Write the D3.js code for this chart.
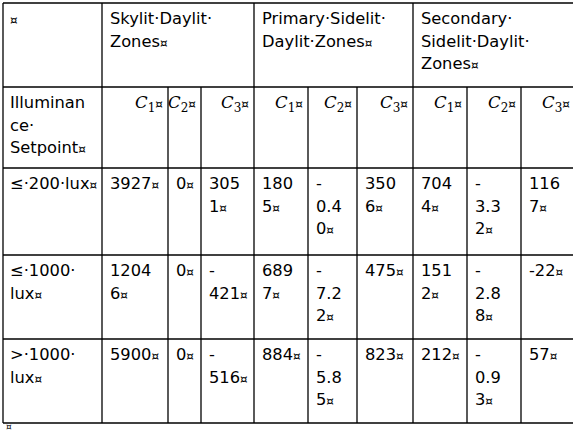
<!DOCTYPE html>
<html><head><meta charset="utf-8">
<script src="https://cdn.jsdelivr.net/npm/d3@7"></script>
<style>body{margin:0;background:#fff}svg{display:block}</style>
</head><body>
<svg id="t" width="573" height="430"></svg>
<script>
// table content, each cell as its wrapped lines
var groups = [["Skylit·Daylit·", "Zones¤"], ["Primary·Sidelit·", "Daylit·Zones¤"], ["Secondary·", "Sidelit·Daylit·", "Zones¤"]];
var setpoints = [["≤·200·lux¤"], ["≤·1000·", "lux¤"], [">·1000·", "lux¤"]];
var values = [
  [["3927¤"], ["0¤"], ["305", "1¤"], ["180", "5¤"], ["-", "0.4", "0¤"], ["350", "6¤"], ["704", "4¤"], ["-", "3.3", "2¤"], ["116", "7¤"]],
  [["1204", "6¤"], ["0¤"], ["-", "421¤"], ["689", "7¤"], ["-", "7.2", "2¤"], ["475¤"], ["151", "2¤"], ["-", "2.8", "8¤"], ["-22¤"]],
  [["5900¤"], ["0¤"], ["-", "516¤"], ["884¤"], ["-", "5.8", "5¤"], ["823¤"], ["212¤"], ["-", "0.9", "3¤"], ["57¤"]]
];
var subs = ["1", "2", "3"];

var colX = [3, 102, 168, 201, 254, 308, 357, 413, 467, 521, 575];
var rowY = [3, 87, 168, 255, 339, 423];
var svg = d3.select("#t");
var font = "DejaVu Sans, Verdana, sans-serif";
var lh = 22.5;

function cell(x, y, lines) {
  var t = svg.append("text").attr("font-family", font).attr("font-size", 16.3).attr("fill", "#000");
  lines.forEach(function (l, i) {
    var ts = t.append("tspan").attr("x", x).attr("y", y + 21 + i * lh);
    var body = l.replace("¤", "");
    ts.append("tspan").text(body);
    if (l.indexOf("¤") >= 0) ts.append("tspan").attr("font-size", 12).text("¤");
  });
}

// header row
cell(colX[0] + 7, rowY[0], ["¤"]);
groups.forEach(function (g, i) { cell(colX[1 + i * 3] + 8, rowY[0], g); });
// subheader row
cell(colX[0] + 7, rowY[1], ["Illuminan", "ce·", "Setpoint¤"]);
for (var c = 0; c < 9; c++) {
  var right = colX[c + 2] - 5;
  var t = svg.append("text").attr("x", right).attr("y", rowY[1] + 21)
    .attr("text-anchor", "end").attr("font-family", "DejaVu Serif, serif").attr("font-size", 16.5);
  t.append("tspan").attr("font-style", "italic").text("C");
  t.append("tspan").attr("font-size", 12).attr("dy", 4).text(subs[c % 3]);
  t.append("tspan").attr("font-family", font).attr("font-size", 12).attr("dy", -4).text("¤");
}
// data rows
setpoints.forEach(function (s, r) {
  cell(colX[0] + 7, rowY[2 + r], s);
  values[r].forEach(function (v, c) { cell(colX[c + 1] + 8, rowY[2 + r], v); });
});

// grid lines
var line = function (x1, y1, x2, y2) {
  svg.append("line").attr("x1", x1).attr("y1", y1).attr("x2", x2).attr("y2", y2)
    .attr("stroke", "#000").attr("stroke-width", 1.3);
};
rowY.forEach(function (y) { line(colX[0], y, colX[10], y); });
colX.forEach(function (x, i) {
  var top = (i === 0 || i === 1 || i === 4 || i === 7 || i === 10) ? rowY[0] : rowY[1];
  line(x, top, x, rowY[5]);
});
svg.append("text").attr("x", 6).attr("y", 430).attr("font-family", font).attr("font-size", 9).text("¤");
</script>
</body></html>
